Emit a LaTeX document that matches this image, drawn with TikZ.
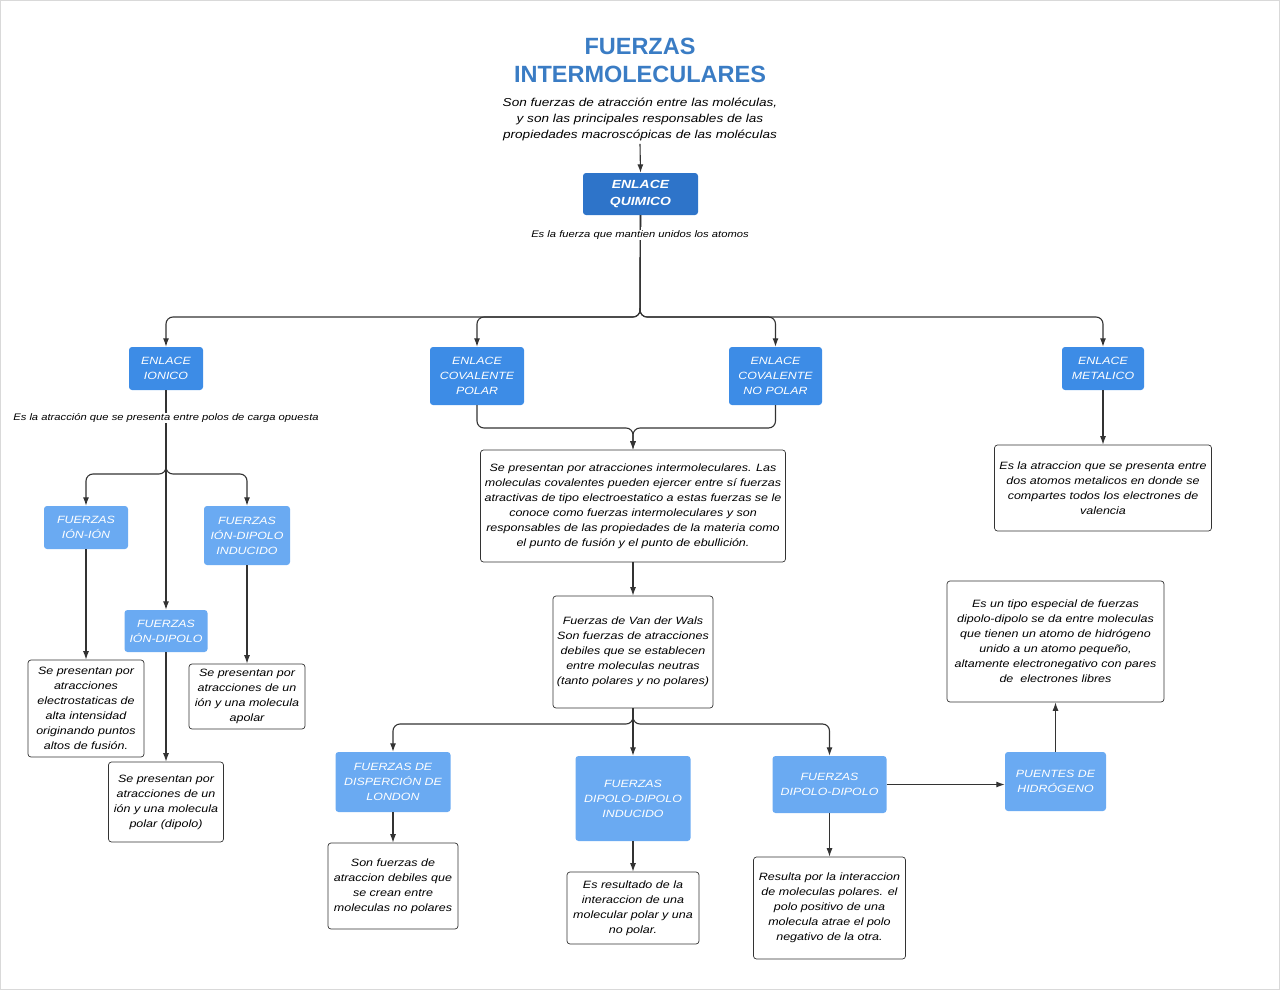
\documentclass[tikz,border=0pt]{standalone}
\usepackage{fontspec}
\setmainfont{Liberation Sans}[FakeStretch=1.18]
\newfontfamily\titlefont{Liberation Sans}
\usetikzlibrary{arrows.meta}
\definecolor{dblue}{HTML}{2E74C9}
\definecolor{mblue}{HTML}{3D8CE6}
\definecolor{lblue}{HTML}{6AAAF2}
\definecolor{ttl}{HTML}{3A7CC4}
\definecolor{lnk}{HTML}{333333}
\tikzset{
  bx/.style={rounded corners=3pt, text=white, align=center, inner sep=1pt, font=\fontsize{10.5}{15}\selectfont\itshape},
  dbox/.style={bx, fill=dblue, font=\fontsize{11.8}{17}\selectfont\bfseries\itshape},
  mbox/.style={bx, fill=mblue},
  lbox/.style={bx, fill=lblue},
  tbox/.style={draw=lnk, line width=0.7pt, fill=white, rounded corners=3pt, align=center, inner sep=1pt, font=\fontsize{10.6}{15}\selectfont\itshape},
  lbl/.style={fill=white, inner sep=1pt, font=\fontsize{9.5}{11}\selectfont\itshape},
  arr/.style={draw=lnk, line width=1.1pt, -{Latex[length=8.5pt,width=6pt]}},
}
\begin{document}
\begin{tikzpicture}[x=1pt,y=-1pt]
\useasboundingbox (0,0) rectangle (1280,990);
\draw[black!15, line width=1pt] (0.5,0.5) rectangle (1279.5,989.5);

% title
\node[text=ttl, font=\titlefont\fontsize{23.5}{28}\selectfont\bfseries, align=center] (title) at (640,60) {FUERZAS\\INTERMOLECULARES};
\node[font=\fontsize{11.5}{16}\selectfont\itshape, align=center] (sub) at (640,119)
 {Son fuerzas de atracción entre las moléculas,\\y son las principales responsables de las\\propiedades macroscópicas de las moléculas};

% level 1
\node[dbox, minimum width=115pt, minimum height=42pt] (quim) at (640.5,194) {ENLACE\\QUIMICO};

% level 2
\node[mbox, minimum width=74pt, minimum height=43pt] (ion) at (166,368.5) {ENLACE\\IONICO};
\node[mbox, minimum width=94pt, minimum height=58pt] (cpol) at (477,376) {ENLACE\\COVALENTE\\POLAR};
\node[mbox, minimum width=93pt, minimum height=58pt] (cnp) at (775.5,376) {ENLACE\\COVALENTE\\NO POLAR};
\node[mbox, minimum width=82pt, minimum height=43pt] (met) at (1103,368.5) {ENLACE\\METALICO};

% ionic branch
\node[lbox, minimum width=84pt, minimum height=43pt] (ii) at (86,527.5) {FUERZAS\\IÓN-IÓN};
\node[lbox, minimum width=86pt, minimum height=59pt] (idi) at (247,535.5) {FUERZAS\\IÓN-DIPOLO\\INDUCIDO};
\node[lbox, minimum width=83pt, minimum height=42pt] (id) at (166,631) {FUERZAS\\IÓN-DIPOLO};
\node[tbox, minimum width=116pt, minimum height=97pt] (tii) at (86,708.5)
 {Se presentan por\\atracciones\\electrostaticas de\\alta intensidad\\originando puntos\\altos de fusión.};
\node[tbox, minimum width=116pt, minimum height=65pt] (tidi) at (247,696.5)
 {Se presentan por\\atracciones de un\\ión y una molecula\\apolar};
\node[tbox, minimum width=115pt, minimum height=80pt] (tid) at (166,802)
 {Se presentan por\\atracciones de un\\ión y una molecula\\polar (dipolo)};

% covalent branch
\node[tbox, minimum width=305pt, minimum height=112pt] (tcov) at (633,506)
 {Se presentan por atracciones intermoleculares. Las\\moleculas covalentes pueden ejercer entre sí fuerzas\\atractivas de tipo electroestatico a estas fuerzas se le\\conoce como fuerzas intermoleculares y son\\responsables de las propiedades de la materia como\\el punto de fusión y el punto de ebullición.};
\node[tbox, minimum width=160pt, minimum height=112pt] (vdw) at (633,652)
 {Fuerzas de Van der Wals\\Son fuerzas de atracciones\\debiles que se establecen\\entre moleculas neutras\\(tanto polares y no polares)};
\node[lbox, minimum width=115pt, minimum height=60pt] (lon) at (393,782) {FUERZAS DE\\DISPERCIÓN DE\\LONDON};
\node[lbox, minimum width=115pt, minimum height=85pt] (ddi) at (633,798.5) {FUERZAS\\DIPOLO-DIPOLO\\INDUCIDO};
\node[lbox, minimum width=114pt, minimum height=57pt] (dd) at (829.5,784.5) {FUERZAS\\DIPOLO-DIPOLO};
\node[tbox, minimum width=130pt, minimum height=86pt] (tlon) at (393,886)
 {Son fuerzas de\\atraccion debiles que\\se crean entre\\moleculas no polares};
\node[tbox, minimum width=132pt, minimum height=72pt] (tddi) at (633,908)
 {Es resultado de la\\interaccion de una\\molecular polar y una\\no polar.};
\node[tbox, minimum width=152pt, minimum height=102pt] (tdd) at (829.5,908)
 {Resulta por la interaccion\\de moleculas polares. el\\polo positivo de una\\molecula atrae el polo\\negativo de la otra.};
\node[lbox, minimum width=101pt, minimum height=59pt] (ph) at (1055.5,781.5) {PUENTES DE\\HIDRÓGENO};
\node[tbox, minimum width=217pt, minimum height=121pt] (tph) at (1055.5,641.5)
 {Es un tipo especial de fuerzas\\dipolo-dipolo se da entre moleculas\\que tienen un atomo de hidrógeno\\unido a un atomo pequeño,\\altamente electronegativo con pares\\de \ electrones libres};

% metallic branch
\node[tbox, minimum width=217pt, minimum height=86pt] (tmet) at (1103,488)
 {Es la atraccion que se presenta entre\\dos atomos metalicos en donde se\\compartes todos los electrones de\\valencia};

% junction coordinates
\coordinate (j1) at (640,317);
\coordinate (j2) at (166,474);
\coordinate (j3) at (633,428);
\coordinate (j4) at (633,724);

% connectors
\draw[arr] (sub.south) -- (quim.north);
\draw[arr, rounded corners=7pt] (quim.south) -- (j1) -| (ion.north);
\draw[arr, rounded corners=7pt] (quim.south) -- (j1) -| (cpol.north);
\draw[arr, rounded corners=7pt] (quim.south) -- (j1) -| (cnp.north);
\draw[arr, rounded corners=7pt] (quim.south) -- (j1) -| (met.north);
\node[lbl] (lq) at (640,235) {Es la fuerza que mantien unidos los atomos};

\draw[arr, rounded corners=7pt] (ion.south) -- (j2) -| (ii.north);
\draw[arr, rounded corners=7pt] (ion.south) -- (j2) -| (idi.north);
\draw[arr] (ion.south) -- (id.north);
\node[lbl] (li) at (166,418) {Es la atracción que se presenta entre polos de carga opuesta};

\draw[arr] (ii.south) -- (tii.north);
\draw[arr] (idi.south) -- (tidi.north);
\draw[arr] (id.south) -- (tid.north);

\draw[arr, rounded corners=7pt] (cpol.south) |- (j3) -- (tcov.north);
\draw[arr, rounded corners=7pt] (cnp.south) |- (j3) -- (tcov.north);
\draw[arr] (tcov.south) -- (vdw.north);

\draw[arr, rounded corners=7pt] (vdw.south) -- (j4) -| (lon.north);
\draw[arr] (vdw.south) -- (ddi.north);
\draw[arr, rounded corners=7pt] (vdw.south) -- (j4) -| (dd.north);

\draw[arr] (lon.south) -- (tlon.north);
\draw[arr] (ddi.south) -- (tddi.north);
\draw[arr] (dd.south) -- (tdd.north);
\draw[arr] (dd.east) -- (dd.east -| ph.west);
\draw[arr] (ph.north) -- (tph.south);
\draw[arr] (met.south) -- (tmet.north);
\end{tikzpicture}
\end{document}
